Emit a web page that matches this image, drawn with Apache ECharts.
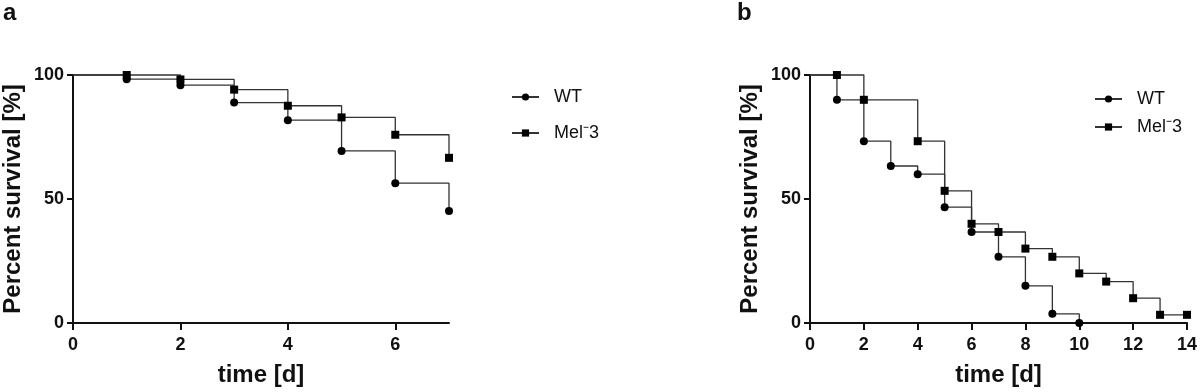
<!DOCTYPE html>
<html>
<head>
<meta charset="utf-8">
<script src="https://cdn.jsdelivr.net/npm/echarts@6/dist/echarts.min.js"></script>
<style>
  html, body { margin: 0; padding: 0; background: #fff; }
  #chart { width: 1200px; height: 392px; }
</style>
</head>
<body>
<div id="chart"></div>
<script>
// panel a
const timeA = [0, 1, 2, 3, 4, 5, 6, 7];
const wtA = [100, 98.3, 95.9, 88.9, 81.8, 69.4, 56.4, 45.2];
const melA = [100, 100, 98.2, 94.1, 87.6, 82.9, 75.9, 66.6];
const ticksA = [0, 2, 4, 6];

// panel b
const timeWtB = [0, 1, 2, 3, 4, 5, 6, 7, 8, 9, 10];
const wtB = [100, 90, 73.3, 63.3, 60, 46.7, 36.7, 26.7, 15, 3.7, 0];
const timeMelB = [0, 1, 2, 4, 5, 6, 7, 8, 9, 10, 11, 12, 13, 14];
const melB = [100, 100, 90, 73.3, 53.3, 40, 36.7, 30, 26.7, 20, 16.7, 10, 3.3, 3.3];
const ticksB = [0, 2, 4, 6, 8, 10, 12, 14];

const names = ['WT', 'Mel⁻3'];
const yTicks = [0, 50, 100];

const font = '"Liberation Sans", Arial, sans-serif';

// first point (t=0) has no marker
function pairs(t, v) {
  return t.map((x, i) => i === 0 ? { value: [x, v[i]], symbol: 'none' } : [x, v[i]]);
}

function xAxis(grid, max, ticks) {
  return {
    type: 'value', gridIndex: grid, min: 0, max: max, interval: 2,
    name: 'time [d]', nameLocation: 'middle', nameGap: 40,
    nameTextStyle: { fontFamily: font, fontWeight: 'bold', fontSize: 24, color: '#111' },
    axisLine: { lineStyle: { color: '#111', width: 2 } },
    axisTick: { show: true, length: 7, lineStyle: { width: 2, color: '#111' }, customValues: ticks },
    axisLabel: { customValues: ticks, margin: 13, fontFamily: font, fontWeight: 'bold', fontSize: 18, color: '#111' },
    splitLine: { show: false }
  };
}

function yAxis(grid) {
  return {
    type: 'value', gridIndex: grid, min: 0, max: 100, interval: 50,
    name: 'Percent survival [%]', nameLocation: 'middle', nameGap: 48, nameRotate: 90,
    nameTextStyle: { fontFamily: font, fontWeight: 'bold', fontSize: 24, color: '#111' },
    axisLine: { show: true, lineStyle: { color: '#111', width: 2 } },
    axisTick: { show: true, length: 6, lineStyle: { width: 2, color: '#111' }, customValues: yTicks },
    axisLabel: { customValues: yTicks, margin: 9, fontFamily: font, fontWeight: 'bold', fontSize: 18, color: '#111' },
    splitLine: { show: false }
  };
}

function series(name, t, v, idx, symbol) {
  return {
    name: name, type: 'line', step: 'end',
    xAxisIndex: idx, yAxisIndex: idx,
    data: pairs(t, v),
    symbol: symbol, symbolSize: 8,
    showAllSymbol: true, clip: false,
    lineStyle: { color: '#333', width: 1.3 },
    itemStyle: { color: '#000' },
    animation: false
  };
}

function legend(left, top, gap) {
  return {
    data: names, orient: 'vertical', left: left, top: top,
    itemWidth: 27, itemHeight: 9, itemGap: gap,
    textStyle: { fontFamily: font, fontSize: 18, color: '#111', padding: [0, 0, 0, 10] },
    selectedMode: false
  };
}

const chart = echarts.init(document.getElementById('chart'));
chart.setOption({
  backgroundColor: '#fff',
  animation: false,
  graphic: [
    { type: 'text', left: 3, top: 1, style: { text: 'a', font: 'bold 24px ' + font, fill: '#111' } },
    { type: 'text', left: 737, top: 1, style: { text: 'b', font: 'bold 24px ' + font, fill: '#111' } }
  ],
  grid: [
    { left: 73, top: 75, width: 376, height: 250 },
    { left: 810, top: 75, width: 378, height: 250 }
  ],
  legend: [legend(506, 83, 18), legend(1089, 85, 10)],
  xAxis: [xAxis(0, 7, ticksA), xAxis(1, 14, ticksB)],
  yAxis: [yAxis(0), yAxis(1)],
  series: [
    series(names[0], timeA, wtA, 0, 'circle'),
    series(names[1], timeA, melA, 0, 'rect'),
    series(names[0], timeWtB, wtB, 1, 'circle'),
    series(names[1], timeMelB, melB, 1, 'rect')
  ]
});
</script>
</body>
</html>
